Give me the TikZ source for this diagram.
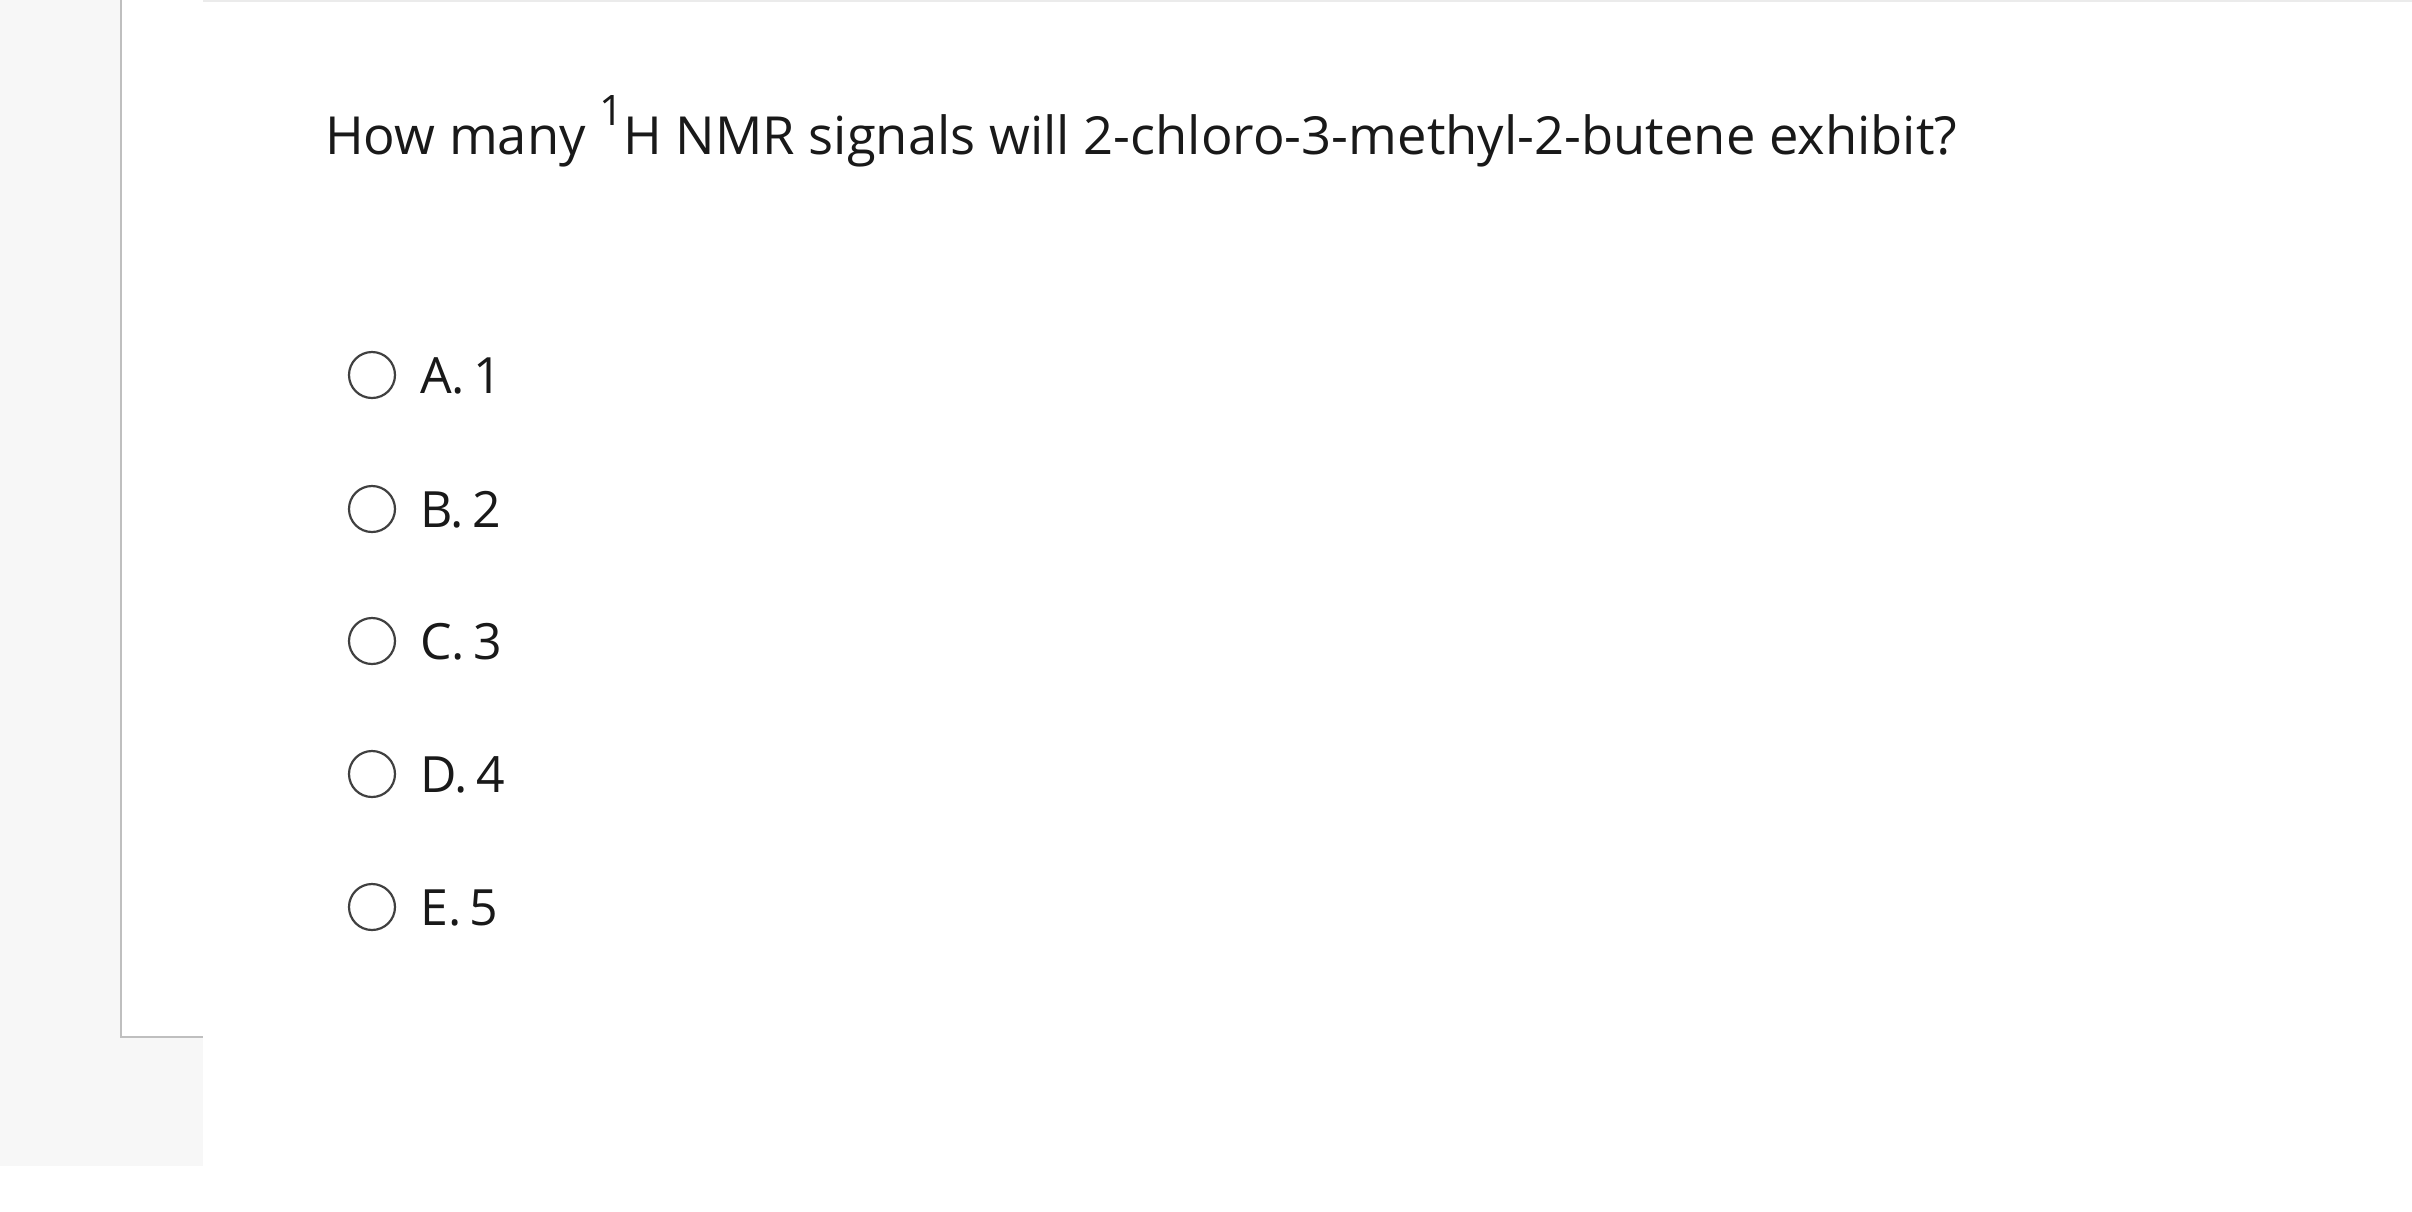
\documentclass[tikz,border=0pt]{standalone}
\usepackage{fontspec}
\setmainfont{Open Sans}
\begin{document}
\begin{tikzpicture}[x=1pt,y=-1pt,
  opt/.style={circle,draw=black!75,line width=2.2pt,minimum size=46pt,inner sep=0pt},
  lbl/.style={anchor=base west,font=\fontsize{50}{60}\selectfont,inner sep=0pt,text=black!90}]
\useasboundingbox (0,0) rectangle (2412,1211);
\fill[white] (0,0) rectangle (2412,1211);
\fill[black!3] (0,0) rectangle (122,1037);
\fill[black!3] (0,1037) rectangle (203,1166);
\draw[black!25,line width=2pt] (121,0) -- (121,1037) -- (203,1037);
\draw[black!8,line width=1.5pt] (203,1) -- (2412,1);
\node[lbl,font=\fontsize{52.5}{62}\selectfont] (q) at (325,154) {How many \raisebox{0.55em}{\fontsize{42}{46}\selectfont 1}H NMR signals will 2-chloro-3-methyl-2-butene exhibit?};
\foreach \y/\t [count=\i] in {375/A.\,1,509/B.\,2,641/C.\,3,774/D.\,4,907/E.\,5}{
  \node[opt] (c\i) at (372,\y) {};
  \node[lbl] (l\i) at (420,\y+18) {\t};
}
\end{tikzpicture}
\end{document}
